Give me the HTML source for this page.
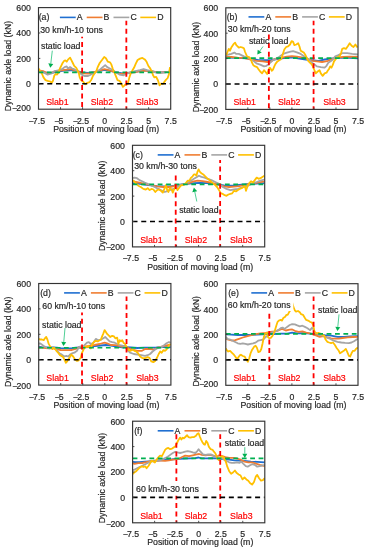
<!DOCTYPE html>
<html><head><meta charset="utf-8"><style>
html,body{margin:0;padding:0;background:#fff;}
svg{display:block;font-family:'Liberation Sans', Arial, sans-serif;}
</style></head><body>
<svg width="366" height="550" viewBox="0 0 366 550">
<defs><clipPath id="clipa"><rect x="38.50" y="7.60" width="132.20" height="101.60"/></clipPath><clipPath id="clipb"><rect x="225.80" y="7.80" width="132.20" height="101.60"/></clipPath><clipPath id="clipc"><rect x="132.50" y="145.30" width="132.20" height="101.60"/></clipPath><clipPath id="clipd"><rect x="38.70" y="283.50" width="132.20" height="101.60"/></clipPath><clipPath id="clipe"><rect x="225.80" y="283.70" width="132.20" height="101.60"/></clipPath><clipPath id="clipf"><rect x="132.60" y="421.20" width="132.20" height="101.60"/></clipPath></defs>
<rect width="366" height="550" fill="#fff"/>
<g clip-path="url(#clipa)">
<polyline points="38.00,71.50 45.00,72.50 52.00,72.80 58.00,71.50 64.00,70.50 70.00,70.00 76.00,70.80 82.00,72.30 88.00,73.00 94.00,72.20 100.00,71.00 104.50,69.90 110.00,70.80 116.00,72.20 122.30,73.50 128.00,72.80 134.00,72.00 140.00,71.20 143.60,70.40 150.00,71.20 158.00,72.30 164.00,72.20 170.00,71.80" fill="none" stroke="#1f6fd1" stroke-width="1.8" stroke-linejoin="round"/>
<polyline points="38.00,70.50 43.50,71.20 47.60,73.30 51.70,72.60 55.80,71.20 59.90,70.50 65.30,69.90 70.80,69.20 74.90,70.50 79.00,71.90 83.10,73.30 88.00,73.70 92.20,72.60 97.70,71.20 104.50,69.20 108.60,70.10 114.10,71.90 120.90,74.00 127.70,72.90 134.00,72.30 140.00,71.10 143.60,70.60 152.00,71.40 159.20,72.60 170.00,71.80" fill="none" stroke="#f07d32" stroke-width="1.8" stroke-linejoin="round"/>
<polyline points="38.00,70.50 43.00,72.00 47.60,74.60 51.70,73.30 54.40,71.20 58.50,70.50 61.90,69.20 64.60,67.10 66.70,66.40 68.00,68.50 70.10,67.10 72.20,68.50 74.20,69.20 76.30,70.50 79.00,72.60 81.70,74.60 84.40,76.00 88.10,76.00 92.20,74.00 96.30,71.90 100.40,69.20 105.20,65.10 107.20,67.10 111.30,69.20 115.40,71.90 119.50,74.60 123.60,75.30 127.70,73.30 134.00,71.40 140.00,70.20 143.60,69.00 147.20,70.20 152.00,71.40 158.00,73.20 164.00,72.60 170.00,71.40" fill="none" stroke="#a5a5a5" stroke-width="1.8" stroke-linejoin="round"/>
<polyline points="38.00,67.80 42.10,74.00 43.50,77.40 45.50,80.10 47.60,80.80 50.30,81.50 51.70,82.80 53.00,80.80 54.40,75.30 55.80,74.00 57.10,74.60 58.50,72.60 59.90,68.50 61.20,65.80 62.60,63.00 64.00,61.00 65.30,60.30 66.70,61.70 68.00,59.60 70.10,57.60 71.50,60.30 72.80,63.00 74.20,65.80 76.30,67.80 77.60,70.50 79.00,74.00 79.70,77.40 81.00,80.10 83.10,81.50 85.10,84.20 86.70,83.20 89.50,82.20 91.50,79.40 92.90,76.00 94.20,74.00 96.30,71.20 97.70,67.10 99.70,63.00 101.80,60.30 104.20,56.90 105.90,58.20 107.90,61.70 110.00,62.30 111.30,64.40 112.70,68.50 114.10,71.90 116.10,76.70 117.50,80.10 119.50,80.80 120.90,82.80 122.90,86.90 124.30,85.60 125.70,84.20 127.70,84.20 129.20,78.00 130.40,74.40 132.20,70.80 134.00,67.80 135.80,63.60 137.60,60.00 140.00,58.60 142.40,57.90 144.80,59.40 146.60,61.80 148.40,66.00 150.20,68.40 152.00,72.00 153.20,75.60 154.40,77.40 156.20,76.80 158.00,80.50 159.50,85.30 161.00,83.50 162.90,84.10 164.10,82.30 165.90,79.90 167.70,78.00 168.90,74.40 170.00,67.20" fill="none" stroke="#ffc000" stroke-width="1.8" stroke-linejoin="round"/>
<line x1="38.50" y1="72.29" x2="170.70" y2="72.29" stroke="#00b050" stroke-width="1.7" stroke-dasharray="4.8 3.6"/>
</g>
<line x1="82.12" y1="109.20" x2="82.12" y2="36.80" stroke="#ff0000" stroke-width="1.8" stroke-dasharray="5 3.6" stroke-dashoffset="6.50"/>
<line x1="126.33" y1="109.20" x2="126.33" y2="20.70" stroke="#ff0000" stroke-width="1.8" stroke-dasharray="5 3.6" stroke-dashoffset="2.00"/>
<line x1="38.50" y1="83.80" x2="170.70" y2="83.80" stroke="#000" stroke-width="1.6" stroke-dasharray="5 3.75"/>
<rect x="38.50" y="7.60" width="132.20" height="101.60" fill="none" stroke="#333" stroke-width="1.15"/>
<line x1="38.50" y1="33.00" x2="40.30" y2="33.00" stroke="#3a3a3a" stroke-width="0.9"/>
<line x1="38.50" y1="58.40" x2="40.30" y2="58.40" stroke="#3a3a3a" stroke-width="0.9"/>
<line x1="38.50" y1="83.80" x2="40.30" y2="83.80" stroke="#3a3a3a" stroke-width="0.9"/>
<line x1="60.53" y1="109.20" x2="60.53" y2="107.20" stroke="#3a3a3a" stroke-width="0.9"/>
<line x1="82.57" y1="109.20" x2="82.57" y2="107.20" stroke="#3a3a3a" stroke-width="0.9"/>
<line x1="104.60" y1="109.20" x2="104.60" y2="107.20" stroke="#3a3a3a" stroke-width="0.9"/>
<line x1="126.63" y1="109.20" x2="126.63" y2="107.20" stroke="#3a3a3a" stroke-width="0.9"/>
<line x1="148.67" y1="109.20" x2="148.67" y2="107.20" stroke="#3a3a3a" stroke-width="0.9"/>
<text x="30.90" y="8.00" text-anchor="end" dominant-baseline="central" fill="#262626" stroke="#262626" stroke-width="0.18" font-size="8.75" >600</text>
<text x="30.90" y="33.40" text-anchor="end" dominant-baseline="central" fill="#262626" stroke="#262626" stroke-width="0.18" font-size="8.75" >400</text>
<text x="30.90" y="58.80" text-anchor="end" dominant-baseline="central" fill="#262626" stroke="#262626" stroke-width="0.18" font-size="8.75" >200</text>
<text x="30.90" y="84.20" text-anchor="end" dominant-baseline="central" fill="#262626" stroke="#262626" stroke-width="0.18" font-size="8.75" >0</text>
<text x="30.90" y="107.50" text-anchor="end" dominant-baseline="central" fill="#262626" stroke="#262626" stroke-width="0.18" font-size="8.75" ><tspan letter-spacing="-0.8">−</tspan>200</text>
<text x="36.80" y="120.60" text-anchor="middle" dominant-baseline="central" fill="#262626" stroke="#262626" stroke-width="0.18" font-size="8.75" ><tspan letter-spacing="-0.8">−</tspan>7.5</text>
<text x="58.83" y="120.60" text-anchor="middle" dominant-baseline="central" fill="#262626" stroke="#262626" stroke-width="0.18" font-size="8.75" ><tspan letter-spacing="-0.8">−</tspan>5</text>
<text x="80.87" y="120.60" text-anchor="middle" dominant-baseline="central" fill="#262626" stroke="#262626" stroke-width="0.18" font-size="8.75" ><tspan letter-spacing="-0.8">−</tspan>2.5</text>
<text x="104.60" y="120.60" text-anchor="middle" dominant-baseline="central" fill="#262626" stroke="#262626" stroke-width="0.18" font-size="8.75" >0</text>
<text x="126.63" y="120.60" text-anchor="middle" dominant-baseline="central" fill="#262626" stroke="#262626" stroke-width="0.18" font-size="8.75" >2.5</text>
<text x="148.67" y="120.60" text-anchor="middle" dominant-baseline="central" fill="#262626" stroke="#262626" stroke-width="0.18" font-size="8.75" >5</text>
<text x="170.70" y="120.60" text-anchor="middle" dominant-baseline="central" fill="#262626" stroke="#262626" stroke-width="0.18" font-size="8.75" >7.5</text>
<text x="106.20" y="128.80" text-anchor="middle" dominant-baseline="central" fill="#262626" stroke="#262626" stroke-width="0.18" font-size="8.75" >Position of moving load (m)</text>
<text x="0" y="0" transform="translate(11.20,66.10) rotate(-90)" text-anchor="middle" fill="#262626" stroke="#262626" stroke-width="0.18" font-size="8.75">Dynamic axle load (kN)</text>
<text x="38.70" y="17.40" text-anchor="start" dominant-baseline="central" fill="#262626" stroke="#262626" stroke-width="0.18" font-size="8.75" >(a)</text>
<line x1="59.90" y1="17.40" x2="75.70" y2="17.40" stroke="#1f6fd1" stroke-width="1.6"/>
<text x="76.80" y="17.40" text-anchor="start" dominant-baseline="central" fill="#262626" stroke="#262626" stroke-width="0.18" font-size="8.75" >A</text>
<line x1="86.70" y1="17.40" x2="102.50" y2="17.40" stroke="#f07d32" stroke-width="1.6"/>
<text x="103.60" y="17.40" text-anchor="start" dominant-baseline="central" fill="#262626" stroke="#262626" stroke-width="0.18" font-size="8.75" >B</text>
<line x1="113.50" y1="17.40" x2="129.30" y2="17.40" stroke="#a5a5a5" stroke-width="1.6"/>
<text x="130.40" y="17.40" text-anchor="start" dominant-baseline="central" fill="#262626" stroke="#262626" stroke-width="0.18" font-size="8.75" >C</text>
<line x1="140.30" y1="17.40" x2="156.10" y2="17.40" stroke="#ffc000" stroke-width="1.6"/>
<text x="157.20" y="17.40" text-anchor="start" dominant-baseline="central" fill="#262626" stroke="#262626" stroke-width="0.18" font-size="8.75" >D</text>
<text x="40.20" y="29.50" text-anchor="start" dominant-baseline="central" fill="#262626" stroke="#262626" stroke-width="0.18" font-size="8.75" >30 km/h-10 tons</text>
<text x="41.00" y="45.70" text-anchor="start" dominant-baseline="central" fill="#262626" stroke="#262626" stroke-width="0.18" font-size="8.75" >static load</text>
<line x1="52.30" y1="50.70" x2="50.79" y2="63.63" stroke="#3cc98a" stroke-width="0.9"/>
<polygon points="50.30,67.80 48.30,63.34 53.27,63.92" fill="#00b050"/>
<text x="57.40" y="102.20" text-anchor="middle" dominant-baseline="central" fill="#ff0000" stroke="#ff0000" stroke-width="0.18" font-size="8.8" >Slab1</text>
<text x="101.90" y="102.20" text-anchor="middle" dominant-baseline="central" fill="#ff0000" stroke="#ff0000" stroke-width="0.18" font-size="8.8" >Slab2</text>
<text x="147.20" y="102.20" text-anchor="middle" dominant-baseline="central" fill="#ff0000" stroke="#ff0000" stroke-width="0.18" font-size="8.8" >Slab3</text>
<g clip-path="url(#clipb)">
<polyline points="225.00,57.60 237.60,57.90 250.10,58.70 257.70,59.90 265.20,60.20 271.00,60.20 274.30,59.50 280.60,58.70 286.90,57.60 293.10,57.60 299.40,58.70 305.70,59.50 312.00,60.20 318.30,60.80 324.60,59.50 330.90,58.70 337.10,57.90 344.70,57.60 358.00,58.30" fill="none" stroke="#1f6fd1" stroke-width="1.8" stroke-linejoin="round"/>
<polyline points="225.00,57.00 231.30,57.00 237.60,57.60 243.90,57.90 250.10,59.50 256.40,60.80 262.70,61.40 267.70,62.00 271.00,61.40 274.30,59.20 280.60,57.90 286.90,56.60 291.90,56.10 296.90,56.60 303.20,57.60 309.50,59.50 312.00,60.80 317.00,61.40 322.10,62.00 327.10,61.20 332.10,58.90 337.10,57.60 343.40,57.00 349.70,56.60 358.00,57.00" fill="none" stroke="#f07d32" stroke-width="1.8" stroke-linejoin="round"/>
<polyline points="225.00,55.80 228.80,54.50 231.30,53.90 234.40,52.60 236.30,53.90 238.80,53.90 241.30,55.10 243.90,56.40 247.60,57.60 251.40,59.50 253.90,61.40 256.40,63.30 260.20,64.60 264.00,66.40 266.50,65.80 269.00,63.90 273.00,60.20 278.10,57.60 283.10,53.90 286.90,52.60 290.60,51.60 293.10,51.10 296.90,52.40 300.70,53.90 304.40,56.40 308.20,58.90 312.00,62.70 314.50,64.60 317.00,66.40 320.80,67.10 324.60,67.70 326.50,65.80 328.30,62.70 332.10,60.20 335.30,56.40 338.40,55.10 342.20,53.20 347.20,53.20 352.20,53.90 358.00,54.50" fill="none" stroke="#a5a5a5" stroke-width="1.8" stroke-linejoin="round"/>
<polyline points="226.30,55.10 227.50,52.00 228.80,48.90 230.00,50.70 231.30,47.60 232.50,45.70 233.80,43.80 235.10,42.60 236.30,45.10 237.60,46.30 238.80,47.60 240.70,47.00 242.60,47.60 243.90,48.20 245.10,52.00 247.00,56.40 248.90,57.00 250.80,58.90 252.00,62.70 253.30,65.20 255.20,66.40 257.00,67.10 258.30,69.00 260.20,71.50 262.10,73.40 264.00,70.20 265.20,71.50 267.10,74.00 268.40,70.20 269.60,67.70 270.50,68.30 271.80,70.80 273.00,69.60 274.30,66.40 275.50,63.90 277.40,61.40 279.30,60.20 280.60,59.50 281.80,57.60 283.10,53.20 284.30,49.50 286.20,47.00 288.10,46.30 290.00,44.50 291.60,41.10 293.10,41.90 294.40,45.10 296.30,44.50 298.20,43.20 299.40,46.30 300.70,50.70 301.90,51.40 303.80,52.60 305.10,54.50 306.30,57.00 308.20,60.80 310.70,63.30 312.60,65.80 313.90,69.00 315.80,73.40 317.70,71.50 319.50,70.20 320.80,73.40 322.70,75.90 324.60,73.40 326.50,72.70 327.70,70.80 329.00,69.00 330.20,66.40 331.50,67.70 332.70,65.20 334.00,61.40 335.90,58.90 337.80,57.00 339.60,56.40 341.20,52.60 342.20,48.90 344.00,48.20 345.90,48.90 347.80,46.30 349.70,43.20 351.60,45.70 353.50,47.00 355.40,44.50 357.50,47.60" fill="none" stroke="#ffc000" stroke-width="1.8" stroke-linejoin="round"/>
<line x1="225.80" y1="58.09" x2="358.00" y2="58.09" stroke="#00b050" stroke-width="1.7" stroke-dasharray="4.8 3.6"/>
</g>
<line x1="268.87" y1="109.40" x2="268.87" y2="34.50" stroke="#ff0000" stroke-width="1.8" stroke-dasharray="5 3.6" stroke-dashoffset="7.50"/>
<line x1="313.58" y1="109.40" x2="313.58" y2="20.70" stroke="#ff0000" stroke-width="1.8" stroke-dasharray="5 3.6" stroke-dashoffset="1.80"/>
<line x1="225.80" y1="84.00" x2="358.00" y2="84.00" stroke="#000" stroke-width="1.6" stroke-dasharray="5 3.75"/>
<rect x="225.80" y="7.80" width="132.20" height="101.60" fill="none" stroke="#333" stroke-width="1.15"/>
<line x1="225.80" y1="33.20" x2="227.60" y2="33.20" stroke="#3a3a3a" stroke-width="0.9"/>
<line x1="225.80" y1="58.60" x2="227.60" y2="58.60" stroke="#3a3a3a" stroke-width="0.9"/>
<line x1="225.80" y1="84.00" x2="227.60" y2="84.00" stroke="#3a3a3a" stroke-width="0.9"/>
<line x1="247.83" y1="109.40" x2="247.83" y2="107.40" stroke="#3a3a3a" stroke-width="0.9"/>
<line x1="269.87" y1="109.40" x2="269.87" y2="107.40" stroke="#3a3a3a" stroke-width="0.9"/>
<line x1="291.90" y1="109.40" x2="291.90" y2="107.40" stroke="#3a3a3a" stroke-width="0.9"/>
<line x1="313.93" y1="109.40" x2="313.93" y2="107.40" stroke="#3a3a3a" stroke-width="0.9"/>
<line x1="335.97" y1="109.40" x2="335.97" y2="107.40" stroke="#3a3a3a" stroke-width="0.9"/>
<text x="218.20" y="8.20" text-anchor="end" dominant-baseline="central" fill="#262626" stroke="#262626" stroke-width="0.18" font-size="8.75" >600</text>
<text x="218.20" y="33.60" text-anchor="end" dominant-baseline="central" fill="#262626" stroke="#262626" stroke-width="0.18" font-size="8.75" >400</text>
<text x="218.20" y="59.00" text-anchor="end" dominant-baseline="central" fill="#262626" stroke="#262626" stroke-width="0.18" font-size="8.75" >200</text>
<text x="218.20" y="84.40" text-anchor="end" dominant-baseline="central" fill="#262626" stroke="#262626" stroke-width="0.18" font-size="8.75" >0</text>
<text x="218.20" y="109.80" text-anchor="end" dominant-baseline="central" fill="#262626" stroke="#262626" stroke-width="0.18" font-size="8.75" ><tspan letter-spacing="-0.8">−</tspan>200</text>
<text x="224.10" y="120.80" text-anchor="middle" dominant-baseline="central" fill="#262626" stroke="#262626" stroke-width="0.18" font-size="8.75" ><tspan letter-spacing="-0.8">−</tspan>7.5</text>
<text x="246.13" y="120.80" text-anchor="middle" dominant-baseline="central" fill="#262626" stroke="#262626" stroke-width="0.18" font-size="8.75" ><tspan letter-spacing="-0.8">−</tspan>5</text>
<text x="268.17" y="120.80" text-anchor="middle" dominant-baseline="central" fill="#262626" stroke="#262626" stroke-width="0.18" font-size="8.75" ><tspan letter-spacing="-0.8">−</tspan>2.5</text>
<text x="291.90" y="120.80" text-anchor="middle" dominant-baseline="central" fill="#262626" stroke="#262626" stroke-width="0.18" font-size="8.75" >0</text>
<text x="313.93" y="120.80" text-anchor="middle" dominant-baseline="central" fill="#262626" stroke="#262626" stroke-width="0.18" font-size="8.75" >2.5</text>
<text x="335.97" y="120.80" text-anchor="middle" dominant-baseline="central" fill="#262626" stroke="#262626" stroke-width="0.18" font-size="8.75" >5</text>
<text x="358.00" y="120.80" text-anchor="middle" dominant-baseline="central" fill="#262626" stroke="#262626" stroke-width="0.18" font-size="8.75" >7.5</text>
<text x="293.50" y="129.00" text-anchor="middle" dominant-baseline="central" fill="#262626" stroke="#262626" stroke-width="0.18" font-size="8.75" >Position of moving load (m)</text>
<text x="0" y="0" transform="translate(198.90,67.00) rotate(-90)" text-anchor="middle" fill="#262626" stroke="#262626" stroke-width="0.18" font-size="8.75">Dynamic axle load (kN)</text>
<text x="226.70" y="16.90" text-anchor="start" dominant-baseline="central" fill="#262626" stroke="#262626" stroke-width="0.18" font-size="8.75" >(b)</text>
<line x1="248.50" y1="16.90" x2="264.30" y2="16.90" stroke="#1f6fd1" stroke-width="1.6"/>
<text x="265.40" y="16.90" text-anchor="start" dominant-baseline="central" fill="#262626" stroke="#262626" stroke-width="0.18" font-size="8.75" >A</text>
<line x1="275.30" y1="16.90" x2="291.10" y2="16.90" stroke="#f07d32" stroke-width="1.6"/>
<text x="292.20" y="16.90" text-anchor="start" dominant-baseline="central" fill="#262626" stroke="#262626" stroke-width="0.18" font-size="8.75" >B</text>
<line x1="302.10" y1="16.90" x2="317.90" y2="16.90" stroke="#a5a5a5" stroke-width="1.6"/>
<text x="319.00" y="16.90" text-anchor="start" dominant-baseline="central" fill="#262626" stroke="#262626" stroke-width="0.18" font-size="8.75" >C</text>
<line x1="328.90" y1="16.90" x2="344.70" y2="16.90" stroke="#ffc000" stroke-width="1.6"/>
<text x="345.80" y="16.90" text-anchor="start" dominant-baseline="central" fill="#262626" stroke="#262626" stroke-width="0.18" font-size="8.75" >D</text>
<text x="227.80" y="28.90" text-anchor="start" dominant-baseline="central" fill="#262626" stroke="#262626" stroke-width="0.18" font-size="8.75" >30 km/h-20 tons</text>
<text x="248.90" y="40.90" text-anchor="start" dominant-baseline="central" fill="#262626" stroke="#262626" stroke-width="0.18" font-size="8.75" >static load</text>
<line x1="263.00" y1="46.50" x2="259.74" y2="51.08" stroke="#3cc98a" stroke-width="0.9"/>
<polygon points="257.30,54.50 257.70,49.63 261.77,52.53" fill="#00b050"/>
<text x="244.70" y="102.40" text-anchor="middle" dominant-baseline="central" fill="#ff0000" stroke="#ff0000" stroke-width="0.18" font-size="8.8" >Slab1</text>
<text x="289.20" y="102.40" text-anchor="middle" dominant-baseline="central" fill="#ff0000" stroke="#ff0000" stroke-width="0.18" font-size="8.8" >Slab2</text>
<text x="334.50" y="102.40" text-anchor="middle" dominant-baseline="central" fill="#ff0000" stroke="#ff0000" stroke-width="0.18" font-size="8.8" >Slab3</text>
<g clip-path="url(#clipc)">
<polyline points="132.50,183.20 138.30,183.60 144.60,184.50 150.90,185.40 157.10,186.10 163.40,186.40 169.70,186.40 176.60,185.40 181.30,184.50 187.60,183.90 193.90,183.20 200.10,182.80 206.40,183.20 212.70,183.90 219.00,184.70 224.00,185.40 229.10,185.70 234.10,185.40 239.10,184.90 244.10,184.50 250.40,183.90 256.70,183.60 264.40,183.20" fill="none" stroke="#1f6fd1" stroke-width="1.8" stroke-linejoin="round"/>
<polyline points="132.50,180.70 135.80,182.00 139.50,182.60 144.60,183.90 150.90,185.10 157.10,186.40 163.40,187.00 169.70,187.00 176.60,185.70 181.30,184.90 187.60,183.60 192.60,181.60 197.60,180.70 202.60,181.10 207.70,182.00 212.70,183.20 219.00,184.90 224.00,186.40 229.10,187.00 234.10,186.60 239.10,186.10 244.10,185.10 249.20,184.10 254.20,183.20 259.20,182.30 264.40,181.30" fill="none" stroke="#f07d32" stroke-width="1.8" stroke-linejoin="round"/>
<polyline points="132.50,178.20 134.50,177.60 137.00,178.20 139.50,180.10 142.10,181.30 144.60,182.60 147.70,183.90 150.90,185.10 154.60,187.00 158.40,188.90 162.20,190.80 164.70,192.00 166.60,191.40 169.70,190.10 173.50,188.90 176.60,187.60 180.00,185.10 185.10,183.90 190.10,181.30 193.90,178.80 197.00,176.90 198.90,175.70 201.40,176.90 204.50,177.60 207.70,178.80 211.40,180.10 215.20,182.00 219.00,183.90 222.80,187.00 226.50,188.90 230.30,190.10 234.10,189.50 237.90,188.90 241.60,187.60 245.40,186.40 249.20,185.10 252.90,183.20 256.70,182.00 260.50,180.70 264.40,179.50" fill="none" stroke="#a5a5a5" stroke-width="1.8" stroke-linejoin="round"/>
<polyline points="132.50,180.10 133.90,181.30 135.80,183.20 138.30,185.70 140.80,187.00 143.30,188.90 145.80,189.50 147.70,188.20 149.60,190.10 151.50,188.90 153.40,189.50 155.30,192.00 157.10,190.10 159.00,189.50 160.90,190.80 162.80,192.60 164.70,188.20 165.90,185.10 167.20,190.10 168.40,192.00 169.70,188.20 171.60,189.50 172.80,192.60 174.10,189.50 175.40,187.00 176.30,187.60 177.50,190.10 178.80,188.20 180.70,185.70 182.50,185.10 184.40,184.50 186.30,182.60 187.60,180.70 189.50,180.70 190.70,178.20 192.60,176.30 193.90,174.40 195.10,174.40 196.40,175.70 197.40,171.90 198.60,169.40 199.90,171.90 201.40,173.20 203.30,174.40 205.20,176.30 207.00,178.20 208.90,179.50 210.80,181.30 212.70,183.20 215.20,185.10 217.10,187.00 219.00,190.10 220.90,193.30 222.80,193.90 224.70,195.20 226.50,195.80 228.40,194.50 230.30,193.90 232.20,193.30 234.10,190.80 236.00,191.40 237.90,190.10 239.70,188.90 241.60,188.20 243.50,187.00 244.80,185.70 246.00,190.80 247.30,187.00 249.20,183.20 251.00,181.30 252.90,182.60 254.80,180.10 256.70,177.60 258.60,178.80 260.50,178.20 262.40,176.90 264.40,175.70" fill="none" stroke="#ffc000" stroke-width="1.8" stroke-linejoin="round"/>
<line x1="132.50" y1="184.42" x2="264.70" y2="184.42" stroke="#00b050" stroke-width="1.7" stroke-dasharray="4.8 3.6"/>
</g>
<line x1="175.72" y1="246.90" x2="175.72" y2="175.60" stroke="#ff0000" stroke-width="1.8" stroke-dasharray="5 3.6" stroke-dashoffset="2.30"/>
<line x1="220.13" y1="246.90" x2="220.13" y2="159.90" stroke="#ff0000" stroke-width="1.8" stroke-dasharray="5 3.6" stroke-dashoffset="2.00"/>
<line x1="132.50" y1="221.50" x2="264.70" y2="221.50" stroke="#000" stroke-width="1.6" stroke-dasharray="5 3.75"/>
<rect x="132.50" y="145.30" width="132.20" height="101.60" fill="none" stroke="#333" stroke-width="1.15"/>
<line x1="132.50" y1="170.70" x2="134.30" y2="170.70" stroke="#3a3a3a" stroke-width="0.9"/>
<line x1="132.50" y1="196.10" x2="134.30" y2="196.10" stroke="#3a3a3a" stroke-width="0.9"/>
<line x1="132.50" y1="221.50" x2="134.30" y2="221.50" stroke="#3a3a3a" stroke-width="0.9"/>
<line x1="154.53" y1="246.90" x2="154.53" y2="244.90" stroke="#3a3a3a" stroke-width="0.9"/>
<line x1="176.57" y1="246.90" x2="176.57" y2="244.90" stroke="#3a3a3a" stroke-width="0.9"/>
<line x1="198.60" y1="246.90" x2="198.60" y2="244.90" stroke="#3a3a3a" stroke-width="0.9"/>
<line x1="220.63" y1="246.90" x2="220.63" y2="244.90" stroke="#3a3a3a" stroke-width="0.9"/>
<line x1="242.67" y1="246.90" x2="242.67" y2="244.90" stroke="#3a3a3a" stroke-width="0.9"/>
<text x="124.90" y="145.70" text-anchor="end" dominant-baseline="central" fill="#262626" stroke="#262626" stroke-width="0.18" font-size="8.75" >600</text>
<text x="124.90" y="171.10" text-anchor="end" dominant-baseline="central" fill="#262626" stroke="#262626" stroke-width="0.18" font-size="8.75" >400</text>
<text x="124.90" y="196.50" text-anchor="end" dominant-baseline="central" fill="#262626" stroke="#262626" stroke-width="0.18" font-size="8.75" >200</text>
<text x="124.90" y="221.90" text-anchor="end" dominant-baseline="central" fill="#262626" stroke="#262626" stroke-width="0.18" font-size="8.75" >0</text>
<text x="124.90" y="247.30" text-anchor="end" dominant-baseline="central" fill="#262626" stroke="#262626" stroke-width="0.18" font-size="8.75" ><tspan letter-spacing="-0.8">−</tspan>200</text>
<text x="130.80" y="258.30" text-anchor="middle" dominant-baseline="central" fill="#262626" stroke="#262626" stroke-width="0.18" font-size="8.75" ><tspan letter-spacing="-0.8">−</tspan>7.5</text>
<text x="152.83" y="258.30" text-anchor="middle" dominant-baseline="central" fill="#262626" stroke="#262626" stroke-width="0.18" font-size="8.75" ><tspan letter-spacing="-0.8">−</tspan>5</text>
<text x="174.87" y="258.30" text-anchor="middle" dominant-baseline="central" fill="#262626" stroke="#262626" stroke-width="0.18" font-size="8.75" ><tspan letter-spacing="-0.8">−</tspan>2.5</text>
<text x="198.60" y="258.30" text-anchor="middle" dominant-baseline="central" fill="#262626" stroke="#262626" stroke-width="0.18" font-size="8.75" >0</text>
<text x="220.63" y="258.30" text-anchor="middle" dominant-baseline="central" fill="#262626" stroke="#262626" stroke-width="0.18" font-size="8.75" >2.5</text>
<text x="242.67" y="258.30" text-anchor="middle" dominant-baseline="central" fill="#262626" stroke="#262626" stroke-width="0.18" font-size="8.75" >5</text>
<text x="264.70" y="258.30" text-anchor="middle" dominant-baseline="central" fill="#262626" stroke="#262626" stroke-width="0.18" font-size="8.75" >7.5</text>
<text x="200.20" y="266.50" text-anchor="middle" dominant-baseline="central" fill="#262626" stroke="#262626" stroke-width="0.18" font-size="8.75" >Position of moving load (m)</text>
<text x="0" y="0" transform="translate(105.00,205.80) rotate(-90)" text-anchor="middle" fill="#262626" stroke="#262626" stroke-width="0.18" font-size="8.75">Dynamic axle load (kN)</text>
<text x="132.70" y="154.90" text-anchor="start" dominant-baseline="central" fill="#262626" stroke="#262626" stroke-width="0.18" font-size="8.75" >(c)</text>
<line x1="157.70" y1="154.90" x2="173.50" y2="154.90" stroke="#1f6fd1" stroke-width="1.6"/>
<text x="174.60" y="154.90" text-anchor="start" dominant-baseline="central" fill="#262626" stroke="#262626" stroke-width="0.18" font-size="8.75" >A</text>
<line x1="184.50" y1="154.90" x2="200.30" y2="154.90" stroke="#f07d32" stroke-width="1.6"/>
<text x="201.40" y="154.90" text-anchor="start" dominant-baseline="central" fill="#262626" stroke="#262626" stroke-width="0.18" font-size="8.75" >B</text>
<line x1="211.30" y1="154.90" x2="227.10" y2="154.90" stroke="#a5a5a5" stroke-width="1.6"/>
<text x="228.20" y="154.90" text-anchor="start" dominant-baseline="central" fill="#262626" stroke="#262626" stroke-width="0.18" font-size="8.75" >C</text>
<line x1="238.10" y1="154.90" x2="253.90" y2="154.90" stroke="#ffc000" stroke-width="1.6"/>
<text x="255.00" y="154.90" text-anchor="start" dominant-baseline="central" fill="#262626" stroke="#262626" stroke-width="0.18" font-size="8.75" >D</text>
<text x="134.20" y="166.30" text-anchor="start" dominant-baseline="central" fill="#262626" stroke="#262626" stroke-width="0.18" font-size="8.75" >30 km/h-30 tons</text>
<text x="179.20" y="209.60" text-anchor="start" dominant-baseline="central" fill="#262626" stroke="#262626" stroke-width="0.18" font-size="8.75" >static load</text>
<line x1="196.80" y1="201.50" x2="194.76" y2="191.71" stroke="#3cc98a" stroke-width="0.9"/>
<polygon points="193.90,187.60 197.21,191.20 192.31,192.22" fill="#00b050"/>
<text x="151.40" y="239.90" text-anchor="middle" dominant-baseline="central" fill="#ff0000" stroke="#ff0000" stroke-width="0.18" font-size="8.8" >Slab1</text>
<text x="195.90" y="239.90" text-anchor="middle" dominant-baseline="central" fill="#ff0000" stroke="#ff0000" stroke-width="0.18" font-size="8.8" >Slab2</text>
<text x="241.20" y="239.90" text-anchor="middle" dominant-baseline="central" fill="#ff0000" stroke="#ff0000" stroke-width="0.18" font-size="8.8" >Slab3</text>
<g clip-path="url(#clipd)">
<polyline points="38.70,346.70 41.80,347.10 45.50,347.30 49.30,347.50 53.10,347.50 56.90,347.70 60.60,348.10 64.40,348.30 68.20,348.30 71.90,348.10 75.70,347.70 79.50,347.50 82.00,347.70 88.30,347.10 94.60,346.20 100.90,345.50 105.90,345.00 110.90,345.50 117.20,346.50 123.50,347.50 125.00,347.10 131.30,347.50 137.60,348.00 143.90,347.70 150.10,347.70 156.40,347.50 162.70,347.10 170.60,347.10" fill="none" stroke="#1f6fd1" stroke-width="1.8" stroke-linejoin="round"/>
<polyline points="38.70,347.70 41.80,347.70 45.50,348.00 49.30,348.30 53.10,348.30 56.90,349.20 60.60,350.00 64.40,350.20 68.20,350.20 71.90,350.00 75.70,349.00 79.50,347.10 82.00,348.40 85.80,346.50 89.50,345.80 94.60,345.00 99.60,344.00 104.60,342.70 107.10,343.30 110.90,345.00 115.90,345.20 121.00,346.50 125.00,346.40 128.80,348.30 132.50,349.60 137.60,350.80 142.00,350.80 145.10,349.00 150.10,349.00 153.90,349.60 157.70,347.70 162.70,346.40 167.70,345.20 170.60,344.60" fill="none" stroke="#f07d32" stroke-width="1.8" stroke-linejoin="round"/>
<polyline points="38.70,343.90 39.90,343.30 41.80,344.60 44.30,346.40 46.80,347.70 49.30,348.30 51.80,347.70 54.30,347.70 56.90,350.20 59.40,353.40 61.90,354.60 64.40,356.50 66.30,355.90 68.20,356.50 70.00,354.60 71.90,353.40 74.40,352.70 77.00,350.80 78.80,347.10 80.70,346.40 82.00,347.70 84.50,345.20 87.00,342.70 88.90,342.10 90.80,344.00 93.30,342.70 95.80,338.90 98.30,340.20 100.90,339.60 103.40,338.30 105.20,337.00 107.10,338.90 109.60,341.40 112.20,342.10 114.70,342.70 117.20,344.00 119.70,345.20 123.50,345.80 125.00,345.80 127.50,350.20 130.00,352.70 133.80,354.00 137.60,354.60 141.30,355.20 145.10,355.90 147.60,355.20 150.10,354.00 152.60,351.50 155.80,349.00 158.90,347.70 162.70,346.40 166.50,343.30 169.00,342.00 170.60,342.70" fill="none" stroke="#a5a5a5" stroke-width="1.8" stroke-linejoin="round"/>
<polyline points="38.70,338.90 39.90,339.50 41.80,339.50 43.70,340.20 44.90,338.30 46.20,337.00 47.40,339.50 48.70,343.90 50.60,347.10 52.50,349.00 53.70,347.70 55.00,349.00 56.90,351.50 58.70,353.40 60.00,355.20 61.30,355.90 63.10,357.10 64.40,359.60 65.90,362.80 67.50,360.90 69.40,357.80 71.30,354.60 73.20,356.50 75.10,359.60 77.00,360.90 78.80,360.30 80.70,357.80 82.00,352.80 83.30,350.20 84.50,347.70 85.80,346.50 87.00,347.10 88.30,345.80 89.50,347.70 90.80,348.40 92.10,344.60 93.90,342.10 95.80,340.80 97.70,341.40 99.60,340.20 100.90,339.60 102.10,336.40 103.40,333.30 104.60,330.10 105.90,332.00 107.10,333.90 108.40,335.20 110.30,337.00 112.20,335.80 114.00,336.40 115.30,338.30 117.20,337.70 118.40,344.00 119.70,340.20 121.00,341.40 122.20,340.20 123.50,342.70 125.00,343.90 126.90,347.70 128.80,350.20 130.70,350.80 132.50,349.60 134.40,350.80 136.30,351.50 138.20,353.40 140.10,356.50 142.00,357.80 143.90,358.40 145.70,357.80 147.60,357.10 149.50,357.80 151.40,361.50 153.30,362.20 155.20,360.90 157.00,357.80 158.70,354.00 160.20,351.50 161.70,352.70 163.30,350.20 165.00,350.80 166.50,349.60 167.70,347.70 169.20,345.20 170.60,343.90" fill="none" stroke="#ffc000" stroke-width="1.8" stroke-linejoin="round"/>
<line x1="38.70" y1="347.76" x2="170.90" y2="347.76" stroke="#00b050" stroke-width="1.7" stroke-dasharray="4.8 3.6"/>
</g>
<line x1="82.02" y1="385.10" x2="82.02" y2="312.50" stroke="#ff0000" stroke-width="1.8" stroke-dasharray="5 3.6" stroke-dashoffset="7.50"/>
<line x1="126.53" y1="385.10" x2="126.53" y2="296.60" stroke="#ff0000" stroke-width="1.8" stroke-dasharray="5 3.6" stroke-dashoffset="1.80"/>
<line x1="38.70" y1="359.70" x2="170.90" y2="359.70" stroke="#000" stroke-width="1.6" stroke-dasharray="5 3.75"/>
<rect x="38.70" y="283.50" width="132.20" height="101.60" fill="none" stroke="#333" stroke-width="1.15"/>
<line x1="38.70" y1="308.90" x2="40.50" y2="308.90" stroke="#3a3a3a" stroke-width="0.9"/>
<line x1="38.70" y1="334.30" x2="40.50" y2="334.30" stroke="#3a3a3a" stroke-width="0.9"/>
<line x1="38.70" y1="359.70" x2="40.50" y2="359.70" stroke="#3a3a3a" stroke-width="0.9"/>
<line x1="60.73" y1="385.10" x2="60.73" y2="383.10" stroke="#3a3a3a" stroke-width="0.9"/>
<line x1="82.77" y1="385.10" x2="82.77" y2="383.10" stroke="#3a3a3a" stroke-width="0.9"/>
<line x1="104.80" y1="385.10" x2="104.80" y2="383.10" stroke="#3a3a3a" stroke-width="0.9"/>
<line x1="126.83" y1="385.10" x2="126.83" y2="383.10" stroke="#3a3a3a" stroke-width="0.9"/>
<line x1="148.87" y1="385.10" x2="148.87" y2="383.10" stroke="#3a3a3a" stroke-width="0.9"/>
<text x="31.10" y="283.90" text-anchor="end" dominant-baseline="central" fill="#262626" stroke="#262626" stroke-width="0.18" font-size="8.75" >600</text>
<text x="31.10" y="309.30" text-anchor="end" dominant-baseline="central" fill="#262626" stroke="#262626" stroke-width="0.18" font-size="8.75" >400</text>
<text x="31.10" y="334.70" text-anchor="end" dominant-baseline="central" fill="#262626" stroke="#262626" stroke-width="0.18" font-size="8.75" >200</text>
<text x="31.10" y="360.10" text-anchor="end" dominant-baseline="central" fill="#262626" stroke="#262626" stroke-width="0.18" font-size="8.75" >0</text>
<text x="31.10" y="386.20" text-anchor="end" dominant-baseline="central" fill="#262626" stroke="#262626" stroke-width="0.18" font-size="8.75" ><tspan letter-spacing="-0.8">−</tspan>200</text>
<text x="37.00" y="396.50" text-anchor="middle" dominant-baseline="central" fill="#262626" stroke="#262626" stroke-width="0.18" font-size="8.75" ><tspan letter-spacing="-0.8">−</tspan>7.5</text>
<text x="59.03" y="396.50" text-anchor="middle" dominant-baseline="central" fill="#262626" stroke="#262626" stroke-width="0.18" font-size="8.75" ><tspan letter-spacing="-0.8">−</tspan>5</text>
<text x="81.07" y="396.50" text-anchor="middle" dominant-baseline="central" fill="#262626" stroke="#262626" stroke-width="0.18" font-size="8.75" ><tspan letter-spacing="-0.8">−</tspan>2.5</text>
<text x="104.80" y="396.50" text-anchor="middle" dominant-baseline="central" fill="#262626" stroke="#262626" stroke-width="0.18" font-size="8.75" >0</text>
<text x="126.83" y="396.50" text-anchor="middle" dominant-baseline="central" fill="#262626" stroke="#262626" stroke-width="0.18" font-size="8.75" >2.5</text>
<text x="148.87" y="396.50" text-anchor="middle" dominant-baseline="central" fill="#262626" stroke="#262626" stroke-width="0.18" font-size="8.75" >5</text>
<text x="170.90" y="396.50" text-anchor="middle" dominant-baseline="central" fill="#262626" stroke="#262626" stroke-width="0.18" font-size="8.75" >7.5</text>
<text x="106.40" y="404.70" text-anchor="middle" dominant-baseline="central" fill="#262626" stroke="#262626" stroke-width="0.18" font-size="8.75" >Position of moving load (m)</text>
<text x="0" y="0" transform="translate(11.40,341.70) rotate(-90)" text-anchor="middle" fill="#262626" stroke="#262626" stroke-width="0.18" font-size="8.75">Dynamic axle load (kN)</text>
<text x="40.20" y="292.90" text-anchor="start" dominant-baseline="central" fill="#262626" stroke="#262626" stroke-width="0.18" font-size="8.75" >(d)</text>
<line x1="64.10" y1="292.90" x2="79.90" y2="292.90" stroke="#1f6fd1" stroke-width="1.6"/>
<text x="81.00" y="292.90" text-anchor="start" dominant-baseline="central" fill="#262626" stroke="#262626" stroke-width="0.18" font-size="8.75" >A</text>
<line x1="90.90" y1="292.90" x2="106.70" y2="292.90" stroke="#f07d32" stroke-width="1.6"/>
<text x="107.80" y="292.90" text-anchor="start" dominant-baseline="central" fill="#262626" stroke="#262626" stroke-width="0.18" font-size="8.75" >B</text>
<line x1="117.70" y1="292.90" x2="133.50" y2="292.90" stroke="#a5a5a5" stroke-width="1.6"/>
<text x="134.60" y="292.90" text-anchor="start" dominant-baseline="central" fill="#262626" stroke="#262626" stroke-width="0.18" font-size="8.75" >C</text>
<line x1="144.50" y1="292.90" x2="160.30" y2="292.90" stroke="#ffc000" stroke-width="1.6"/>
<text x="161.40" y="292.90" text-anchor="start" dominant-baseline="central" fill="#262626" stroke="#262626" stroke-width="0.18" font-size="8.75" >D</text>
<text x="42.30" y="305.50" text-anchor="start" dominant-baseline="central" fill="#262626" stroke="#262626" stroke-width="0.18" font-size="8.75" >60 km/h-10 tons</text>
<text x="42.10" y="324.50" text-anchor="start" dominant-baseline="central" fill="#262626" stroke="#262626" stroke-width="0.18" font-size="8.75" >static load</text>
<line x1="65.00" y1="328.00" x2="63.77" y2="341.92" stroke="#3cc98a" stroke-width="0.9"/>
<polygon points="63.40,346.10 61.28,341.70 66.26,342.14" fill="#00b050"/>
<text x="57.60" y="378.10" text-anchor="middle" dominant-baseline="central" fill="#ff0000" stroke="#ff0000" stroke-width="0.18" font-size="8.8" >Slab1</text>
<text x="102.10" y="378.10" text-anchor="middle" dominant-baseline="central" fill="#ff0000" stroke="#ff0000" stroke-width="0.18" font-size="8.8" >Slab2</text>
<text x="147.40" y="378.10" text-anchor="middle" dominant-baseline="central" fill="#ff0000" stroke="#ff0000" stroke-width="0.18" font-size="8.8" >Slab3</text>
<g clip-path="url(#clipe)">
<polyline points="225.80,334.40 231.40,334.60 237.70,335.00 244.10,335.00 250.50,335.00 256.90,334.60 263.20,334.40 268.00,334.00 274.40,334.00 280.70,333.70 287.10,333.60 292.20,332.70 297.30,333.30 302.40,333.10 307.50,333.30 314.00,334.00 318.40,334.50 324.70,335.20 331.10,335.70 337.50,336.80 343.80,337.00 350.20,336.50 357.80,336.10" fill="none" stroke="#1f6fd1" stroke-width="1.8" stroke-linejoin="round"/>
<polyline points="225.80,338.20 227.50,339.50 231.40,340.50 235.20,340.10 239.00,338.80 242.80,337.50 246.70,336.30 250.50,335.40 255.60,334.10 260.70,333.30 265.80,332.80 270.50,332.00 274.40,331.40 278.20,330.50 282.00,328.90 285.80,330.50 289.70,329.70 292.20,329.50 294.80,330.80 298.60,331.80 302.40,331.40 306.20,332.70 310.00,333.30 314.00,334.60 319.60,336.80 323.50,336.10 327.30,337.40 331.10,338.30 334.90,338.70 338.80,338.70 342.60,338.00 347.70,337.40 352.80,337.00 357.80,336.80" fill="none" stroke="#f07d32" stroke-width="1.8" stroke-linejoin="round"/>
<polyline points="225.80,336.90 227.50,338.80 230.10,339.50 232.60,340.70 235.20,342.00 237.70,343.30 240.30,343.90 242.80,343.30 245.40,343.90 247.90,344.50 250.50,343.90 253.00,343.30 255.60,342.60 258.10,340.70 260.70,340.10 263.20,339.50 265.80,336.90 268.30,335.60 270.50,333.30 273.10,332.00 275.60,331.40 278.20,330.10 280.70,328.20 282.60,327.60 284.60,328.90 287.10,326.90 289.70,325.00 292.20,324.10 294.80,324.40 297.30,325.40 299.80,326.30 302.40,325.70 304.90,326.90 307.50,328.20 310.00,330.10 312.00,327.80 313.30,329.10 314.50,332.30 318.40,334.20 322.20,335.50 326.00,337.40 329.80,338.70 333.70,340.60 337.50,341.80 341.30,342.50 345.10,342.90 348.90,343.10 351.50,342.50 354.00,341.20 357.80,338.70" fill="none" stroke="#a5a5a5" stroke-width="1.8" stroke-linejoin="round"/>
<polyline points="225.80,348.40 226.90,350.30 228.20,351.50 230.10,350.90 232.00,352.80 233.90,354.70 235.80,357.30 237.10,359.20 238.40,357.30 239.70,355.40 240.90,354.70 242.80,356.00 244.70,356.60 246.00,359.20 247.90,361.70 249.20,358.50 250.50,353.50 251.80,350.30 253.00,348.40 254.30,346.50 255.60,345.80 256.90,347.70 258.40,352.20 260.00,351.50 261.30,349.00 262.60,343.30 263.90,336.90 265.10,333.70 267.00,332.80 268.00,337.10 269.30,338.20 270.80,337.80 272.50,335.90 274.40,332.00 276.30,325.70 277.60,321.80 278.80,320.60 280.70,319.90 282.00,320.60 283.30,318.00 285.20,316.80 286.50,314.80 287.70,314.80 289.00,312.30 289.90,311.00 291.00,305.00 292.30,303.00 293.50,307.20 294.80,310.40 296.00,311.70 298.00,311.00 299.80,312.30 301.10,314.20 303.00,314.80 304.90,318.00 306.20,319.90 308.10,320.60 310.00,321.80 311.90,322.50 313.30,325.30 314.50,331.70 316.50,333.60 318.40,332.90 320.30,333.60 322.20,334.80 324.10,335.50 325.40,339.30 327.30,341.80 329.20,342.50 331.10,343.10 333.00,342.50 334.90,345.00 336.80,348.20 338.80,350.80 340.00,353.30 341.90,352.00 343.80,350.80 345.80,348.90 347.00,351.40 348.90,355.90 350.20,356.50 351.50,353.30 353.00,350.80 354.70,350.80 355.90,348.90 357.80,347.60" fill="none" stroke="#ffc000" stroke-width="1.8" stroke-linejoin="round"/>
<line x1="225.80" y1="333.87" x2="358.00" y2="333.87" stroke="#00b050" stroke-width="1.7" stroke-dasharray="4.8 3.6"/>
</g>
<line x1="269.32" y1="385.30" x2="269.32" y2="313.60" stroke="#ff0000" stroke-width="1.8" stroke-dasharray="5 3.6" stroke-dashoffset="2.20"/>
<line x1="313.58" y1="385.30" x2="313.58" y2="296.60" stroke="#ff0000" stroke-width="1.8" stroke-dasharray="5 3.6" stroke-dashoffset="1.60"/>
<rect x="227" y="298.5" width="66.30000000000001" height="12.5" fill="#fff"/>
<line x1="225.80" y1="359.90" x2="358.00" y2="359.90" stroke="#000" stroke-width="1.6" stroke-dasharray="5 3.75"/>
<rect x="225.80" y="283.70" width="132.20" height="101.60" fill="none" stroke="#333" stroke-width="1.15"/>
<line x1="225.80" y1="309.10" x2="227.60" y2="309.10" stroke="#3a3a3a" stroke-width="0.9"/>
<line x1="225.80" y1="334.50" x2="227.60" y2="334.50" stroke="#3a3a3a" stroke-width="0.9"/>
<line x1="225.80" y1="359.90" x2="227.60" y2="359.90" stroke="#3a3a3a" stroke-width="0.9"/>
<line x1="247.83" y1="385.30" x2="247.83" y2="383.30" stroke="#3a3a3a" stroke-width="0.9"/>
<line x1="269.87" y1="385.30" x2="269.87" y2="383.30" stroke="#3a3a3a" stroke-width="0.9"/>
<line x1="291.90" y1="385.30" x2="291.90" y2="383.30" stroke="#3a3a3a" stroke-width="0.9"/>
<line x1="313.93" y1="385.30" x2="313.93" y2="383.30" stroke="#3a3a3a" stroke-width="0.9"/>
<line x1="335.97" y1="385.30" x2="335.97" y2="383.30" stroke="#3a3a3a" stroke-width="0.9"/>
<text x="218.20" y="284.10" text-anchor="end" dominant-baseline="central" fill="#262626" stroke="#262626" stroke-width="0.18" font-size="8.75" >600</text>
<text x="218.20" y="309.50" text-anchor="end" dominant-baseline="central" fill="#262626" stroke="#262626" stroke-width="0.18" font-size="8.75" >400</text>
<text x="218.20" y="334.90" text-anchor="end" dominant-baseline="central" fill="#262626" stroke="#262626" stroke-width="0.18" font-size="8.75" >200</text>
<text x="218.20" y="360.30" text-anchor="end" dominant-baseline="central" fill="#262626" stroke="#262626" stroke-width="0.18" font-size="8.75" >0</text>
<text x="218.20" y="384.20" text-anchor="end" dominant-baseline="central" fill="#262626" stroke="#262626" stroke-width="0.18" font-size="8.75" ><tspan letter-spacing="-0.8">−</tspan>200</text>
<text x="224.10" y="396.70" text-anchor="middle" dominant-baseline="central" fill="#262626" stroke="#262626" stroke-width="0.18" font-size="8.75" ><tspan letter-spacing="-0.8">−</tspan>7.5</text>
<text x="246.13" y="396.70" text-anchor="middle" dominant-baseline="central" fill="#262626" stroke="#262626" stroke-width="0.18" font-size="8.75" ><tspan letter-spacing="-0.8">−</tspan>5</text>
<text x="268.17" y="396.70" text-anchor="middle" dominant-baseline="central" fill="#262626" stroke="#262626" stroke-width="0.18" font-size="8.75" ><tspan letter-spacing="-0.8">−</tspan>2.5</text>
<text x="291.90" y="396.70" text-anchor="middle" dominant-baseline="central" fill="#262626" stroke="#262626" stroke-width="0.18" font-size="8.75" >0</text>
<text x="313.93" y="396.70" text-anchor="middle" dominant-baseline="central" fill="#262626" stroke="#262626" stroke-width="0.18" font-size="8.75" >2.5</text>
<text x="335.97" y="396.70" text-anchor="middle" dominant-baseline="central" fill="#262626" stroke="#262626" stroke-width="0.18" font-size="8.75" >5</text>
<text x="358.00" y="396.70" text-anchor="middle" dominant-baseline="central" fill="#262626" stroke="#262626" stroke-width="0.18" font-size="8.75" >7.5</text>
<text x="293.50" y="404.90" text-anchor="middle" dominant-baseline="central" fill="#262626" stroke="#262626" stroke-width="0.18" font-size="8.75" >Position of moving load (m)</text>
<text x="0" y="0" transform="translate(199.20,341.30) rotate(-90)" text-anchor="middle" fill="#262626" stroke="#262626" stroke-width="0.18" font-size="8.75">Dynamic axle load (kN)</text>
<text x="228.20" y="292.90" text-anchor="start" dominant-baseline="central" fill="#262626" stroke="#262626" stroke-width="0.18" font-size="8.75" >(e)</text>
<line x1="251.30" y1="292.90" x2="267.10" y2="292.90" stroke="#1f6fd1" stroke-width="1.6"/>
<text x="268.20" y="292.90" text-anchor="start" dominant-baseline="central" fill="#262626" stroke="#262626" stroke-width="0.18" font-size="8.75" >A</text>
<line x1="278.10" y1="292.90" x2="293.90" y2="292.90" stroke="#f07d32" stroke-width="1.6"/>
<text x="295.00" y="292.90" text-anchor="start" dominant-baseline="central" fill="#262626" stroke="#262626" stroke-width="0.18" font-size="8.75" >B</text>
<line x1="304.90" y1="292.90" x2="320.70" y2="292.90" stroke="#a5a5a5" stroke-width="1.6"/>
<text x="321.80" y="292.90" text-anchor="start" dominant-baseline="central" fill="#262626" stroke="#262626" stroke-width="0.18" font-size="8.75" >C</text>
<line x1="331.70" y1="292.90" x2="347.50" y2="292.90" stroke="#ffc000" stroke-width="1.6"/>
<text x="348.60" y="292.90" text-anchor="start" dominant-baseline="central" fill="#262626" stroke="#262626" stroke-width="0.18" font-size="8.75" >D</text>
<text x="227.80" y="304.90" text-anchor="start" dominant-baseline="central" fill="#262626" stroke="#262626" stroke-width="0.18" font-size="8.75" >60 km/h-20 tons</text>
<text x="318.00" y="309.50" text-anchor="start" dominant-baseline="central" fill="#262626" stroke="#262626" stroke-width="0.18" font-size="8.75" >static load</text>
<line x1="339.00" y1="314.40" x2="337.80" y2="326.92" stroke="#3cc98a" stroke-width="0.9"/>
<polygon points="337.40,331.10 335.31,326.68 340.29,327.16" fill="#00b050"/>
<text x="244.70" y="378.30" text-anchor="middle" dominant-baseline="central" fill="#ff0000" stroke="#ff0000" stroke-width="0.18" font-size="8.8" >Slab1</text>
<text x="289.20" y="378.30" text-anchor="middle" dominant-baseline="central" fill="#ff0000" stroke="#ff0000" stroke-width="0.18" font-size="8.8" >Slab2</text>
<text x="334.50" y="378.30" text-anchor="middle" dominant-baseline="central" fill="#ff0000" stroke="#ff0000" stroke-width="0.18" font-size="8.8" >Slab3</text>
<g clip-path="url(#clipf)">
<polyline points="132.60,462.00 135.80,462.20 139.60,462.20 144.70,461.70 149.80,461.30 154.90,460.90 160.00,460.40 165.10,460.00 170.20,459.60 175.00,459.00 180.10,458.80 185.20,458.50 190.30,458.40 195.40,458.10 198.60,457.50 201.80,458.40 206.80,458.40 211.90,458.10 217.00,458.40 221.00,458.80 224.10,459.10 229.20,459.70 234.30,460.40 239.40,460.60 244.50,461.00 250.90,461.60 257.20,461.90 264.70,462.30" fill="none" stroke="#1f6fd1" stroke-width="1.8" stroke-linejoin="round"/>
<polyline points="132.60,463.20 134.50,463.90 138.40,463.20 142.20,463.00 146.00,462.20 149.80,461.30 153.70,460.70 157.50,460.40 161.30,460.70 165.10,460.90 168.90,460.40 172.80,459.60 175.00,459.40 178.80,458.80 182.60,456.80 185.20,455.60 189.00,456.20 192.80,455.30 196.70,454.30 199.20,454.00 201.80,454.90 205.60,455.30 209.40,454.90 213.20,455.60 217.00,456.80 219.00,455.30 221.50,455.90 225.40,457.20 229.20,457.80 233.00,457.80 236.80,458.50 240.70,459.70 244.50,461.60 248.30,462.30 252.10,462.30 255.90,463.60 259.80,464.80 264.70,466.10" fill="none" stroke="#f07d32" stroke-width="1.8" stroke-linejoin="round"/>
<polyline points="132.60,470.20 134.50,469.60 137.10,468.30 139.60,467.00 142.20,465.80 144.70,464.50 147.30,463.20 149.80,461.90 152.40,461.30 154.90,461.30 157.50,460.70 160.00,460.00 162.60,459.40 165.10,458.10 167.70,456.80 170.20,454.90 172.80,453.00 175.30,451.80 177.50,452.40 180.10,453.00 182.60,452.40 185.20,451.70 187.70,451.10 190.30,451.70 192.80,452.40 195.40,453.00 197.30,451.10 198.60,449.20 200.50,451.70 203.00,454.30 205.60,454.90 208.10,454.50 210.70,454.30 213.20,455.60 215.80,456.80 218.30,458.80 221.50,457.80 224.10,459.70 226.60,461.00 229.20,462.30 231.70,462.90 234.30,462.90 236.80,462.30 239.40,462.90 241.30,461.60 243.20,463.60 245.80,466.10 247.70,466.70 249.60,465.50 252.10,464.20 254.70,464.80 257.20,466.70 259.80,466.10 262.30,465.50 264.70,464.80" fill="none" stroke="#a5a5a5" stroke-width="1.8" stroke-linejoin="round"/>
<polyline points="132.60,474.00 133.90,472.80 135.80,471.50 137.70,469.60 139.60,467.70 141.60,466.40 143.50,467.00 145.40,466.40 146.60,468.30 148.60,465.80 150.50,462.60 151.70,460.70 153.00,461.30 154.90,462.60 156.80,459.40 158.80,456.80 160.00,455.60 161.90,456.20 163.20,453.70 165.10,449.80 166.40,448.60 168.30,447.90 170.20,449.20 172.10,448.60 174.00,447.30 175.30,446.50 176.30,444.50 178.20,440.50 180.10,437.60 181.40,439.60 182.60,437.70 183.90,438.40 185.80,436.50 187.10,435.20 188.40,437.10 190.30,437.70 192.20,437.10 194.10,437.10 196.00,435.80 197.30,433.90 198.60,433.30 199.80,436.50 201.10,439.60 202.40,442.20 203.70,444.10 204.90,444.70 206.20,440.90 207.50,442.80 208.80,446.60 210.70,449.20 212.60,449.80 213.90,451.70 215.10,453.00 216.40,455.60 217.70,458.80 218.90,460.00 220.20,458.10 220.90,455.90 222.80,456.60 224.70,459.10 226.00,462.30 227.30,466.70 229.20,471.20 231.10,473.80 233.00,472.50 234.90,470.50 236.80,473.10 238.70,474.40 240.60,475.60 242.50,479.40 244.50,477.50 246.40,479.40 248.30,480.70 250.20,483.30 252.10,484.60 254.00,482.00 255.90,476.30 257.20,475.00 259.10,478.20 261.00,480.70 262.90,480.10 264.70,478.20" fill="none" stroke="#ffc000" stroke-width="1.8" stroke-linejoin="round"/>
<line x1="132.60" y1="458.41" x2="264.80" y2="458.41" stroke="#00b050" stroke-width="1.7" stroke-dasharray="4.8 3.6"/>
</g>
<line x1="176.37" y1="522.80" x2="176.37" y2="434.20" stroke="#ff0000" stroke-width="1.8" stroke-dasharray="5 3.6" stroke-dashoffset="2.40"/>
<line x1="220.23" y1="522.80" x2="220.23" y2="434.20" stroke="#ff0000" stroke-width="1.8" stroke-dasharray="5 3.6" stroke-dashoffset="2.10"/>
<rect x="134" y="481" width="67" height="14.800000000000011" fill="#fff"/>
<line x1="132.60" y1="497.40" x2="264.80" y2="497.40" stroke="#000" stroke-width="1.6" stroke-dasharray="5 3.75"/>
<rect x="132.60" y="421.20" width="132.20" height="101.60" fill="none" stroke="#333" stroke-width="1.15"/>
<line x1="132.60" y1="446.60" x2="134.40" y2="446.60" stroke="#3a3a3a" stroke-width="0.9"/>
<line x1="132.60" y1="472.00" x2="134.40" y2="472.00" stroke="#3a3a3a" stroke-width="0.9"/>
<line x1="132.60" y1="497.40" x2="134.40" y2="497.40" stroke="#3a3a3a" stroke-width="0.9"/>
<line x1="154.63" y1="522.80" x2="154.63" y2="520.80" stroke="#3a3a3a" stroke-width="0.9"/>
<line x1="176.67" y1="522.80" x2="176.67" y2="520.80" stroke="#3a3a3a" stroke-width="0.9"/>
<line x1="198.70" y1="522.80" x2="198.70" y2="520.80" stroke="#3a3a3a" stroke-width="0.9"/>
<line x1="220.73" y1="522.80" x2="220.73" y2="520.80" stroke="#3a3a3a" stroke-width="0.9"/>
<line x1="242.77" y1="522.80" x2="242.77" y2="520.80" stroke="#3a3a3a" stroke-width="0.9"/>
<text x="125.00" y="421.60" text-anchor="end" dominant-baseline="central" fill="#262626" stroke="#262626" stroke-width="0.18" font-size="8.75" >600</text>
<text x="125.00" y="447.00" text-anchor="end" dominant-baseline="central" fill="#262626" stroke="#262626" stroke-width="0.18" font-size="8.75" >400</text>
<text x="125.00" y="472.40" text-anchor="end" dominant-baseline="central" fill="#262626" stroke="#262626" stroke-width="0.18" font-size="8.75" >200</text>
<text x="125.00" y="497.80" text-anchor="end" dominant-baseline="central" fill="#262626" stroke="#262626" stroke-width="0.18" font-size="8.75" >0</text>
<text x="125.00" y="524.00" text-anchor="end" dominant-baseline="central" fill="#262626" stroke="#262626" stroke-width="0.18" font-size="8.75" ><tspan letter-spacing="-0.8">−</tspan>200</text>
<text x="130.90" y="534.20" text-anchor="middle" dominant-baseline="central" fill="#262626" stroke="#262626" stroke-width="0.18" font-size="8.75" ><tspan letter-spacing="-0.8">−</tspan>7.5</text>
<text x="152.93" y="534.20" text-anchor="middle" dominant-baseline="central" fill="#262626" stroke="#262626" stroke-width="0.18" font-size="8.75" ><tspan letter-spacing="-0.8">−</tspan>5</text>
<text x="174.97" y="534.20" text-anchor="middle" dominant-baseline="central" fill="#262626" stroke="#262626" stroke-width="0.18" font-size="8.75" ><tspan letter-spacing="-0.8">−</tspan>2.5</text>
<text x="198.70" y="534.20" text-anchor="middle" dominant-baseline="central" fill="#262626" stroke="#262626" stroke-width="0.18" font-size="8.75" >0</text>
<text x="220.73" y="534.20" text-anchor="middle" dominant-baseline="central" fill="#262626" stroke="#262626" stroke-width="0.18" font-size="8.75" >2.5</text>
<text x="242.77" y="534.20" text-anchor="middle" dominant-baseline="central" fill="#262626" stroke="#262626" stroke-width="0.18" font-size="8.75" >5</text>
<text x="264.80" y="534.20" text-anchor="middle" dominant-baseline="central" fill="#262626" stroke="#262626" stroke-width="0.18" font-size="8.75" >7.5</text>
<text x="200.30" y="542.40" text-anchor="middle" dominant-baseline="central" fill="#262626" stroke="#262626" stroke-width="0.18" font-size="8.75" >Position of moving load (m)</text>
<text x="0" y="0" transform="translate(105.40,478.00) rotate(-90)" text-anchor="middle" fill="#262626" stroke="#262626" stroke-width="0.18" font-size="8.75">Dynamic axle load (kN)</text>
<text x="134.20" y="430.80" text-anchor="start" dominant-baseline="central" fill="#262626" stroke="#262626" stroke-width="0.18" font-size="8.75" >(f)</text>
<line x1="157.70" y1="430.80" x2="173.50" y2="430.80" stroke="#1f6fd1" stroke-width="1.6"/>
<text x="174.60" y="430.80" text-anchor="start" dominant-baseline="central" fill="#262626" stroke="#262626" stroke-width="0.18" font-size="8.75" >A</text>
<line x1="184.50" y1="430.80" x2="200.30" y2="430.80" stroke="#f07d32" stroke-width="1.6"/>
<text x="201.40" y="430.80" text-anchor="start" dominant-baseline="central" fill="#262626" stroke="#262626" stroke-width="0.18" font-size="8.75" >B</text>
<line x1="211.30" y1="430.80" x2="227.10" y2="430.80" stroke="#a5a5a5" stroke-width="1.6"/>
<text x="228.20" y="430.80" text-anchor="start" dominant-baseline="central" fill="#262626" stroke="#262626" stroke-width="0.18" font-size="8.75" >C</text>
<line x1="238.10" y1="430.80" x2="253.90" y2="430.80" stroke="#ffc000" stroke-width="1.6"/>
<text x="255.00" y="430.80" text-anchor="start" dominant-baseline="central" fill="#262626" stroke="#262626" stroke-width="0.18" font-size="8.75" >D</text>
<text x="136.10" y="489.20" text-anchor="start" dominant-baseline="central" fill="#262626" stroke="#262626" stroke-width="0.18" font-size="8.75" >60 km/h-30 tons</text>
<text x="224.80" y="442.60" text-anchor="start" dominant-baseline="central" fill="#262626" stroke="#262626" stroke-width="0.18" font-size="8.75" >static load</text>
<line x1="244.80" y1="447.20" x2="244.80" y2="453.70" stroke="#3cc98a" stroke-width="0.9"/>
<polygon points="244.80,457.90 242.30,453.70 247.30,453.70" fill="#00b050"/>
<text x="151.50" y="515.80" text-anchor="middle" dominant-baseline="central" fill="#ff0000" stroke="#ff0000" stroke-width="0.18" font-size="8.8" >Slab1</text>
<text x="196.00" y="515.80" text-anchor="middle" dominant-baseline="central" fill="#ff0000" stroke="#ff0000" stroke-width="0.18" font-size="8.8" >Slab2</text>
<text x="241.30" y="515.80" text-anchor="middle" dominant-baseline="central" fill="#ff0000" stroke="#ff0000" stroke-width="0.18" font-size="8.8" >Slab3</text>
</svg>
</body></html>
